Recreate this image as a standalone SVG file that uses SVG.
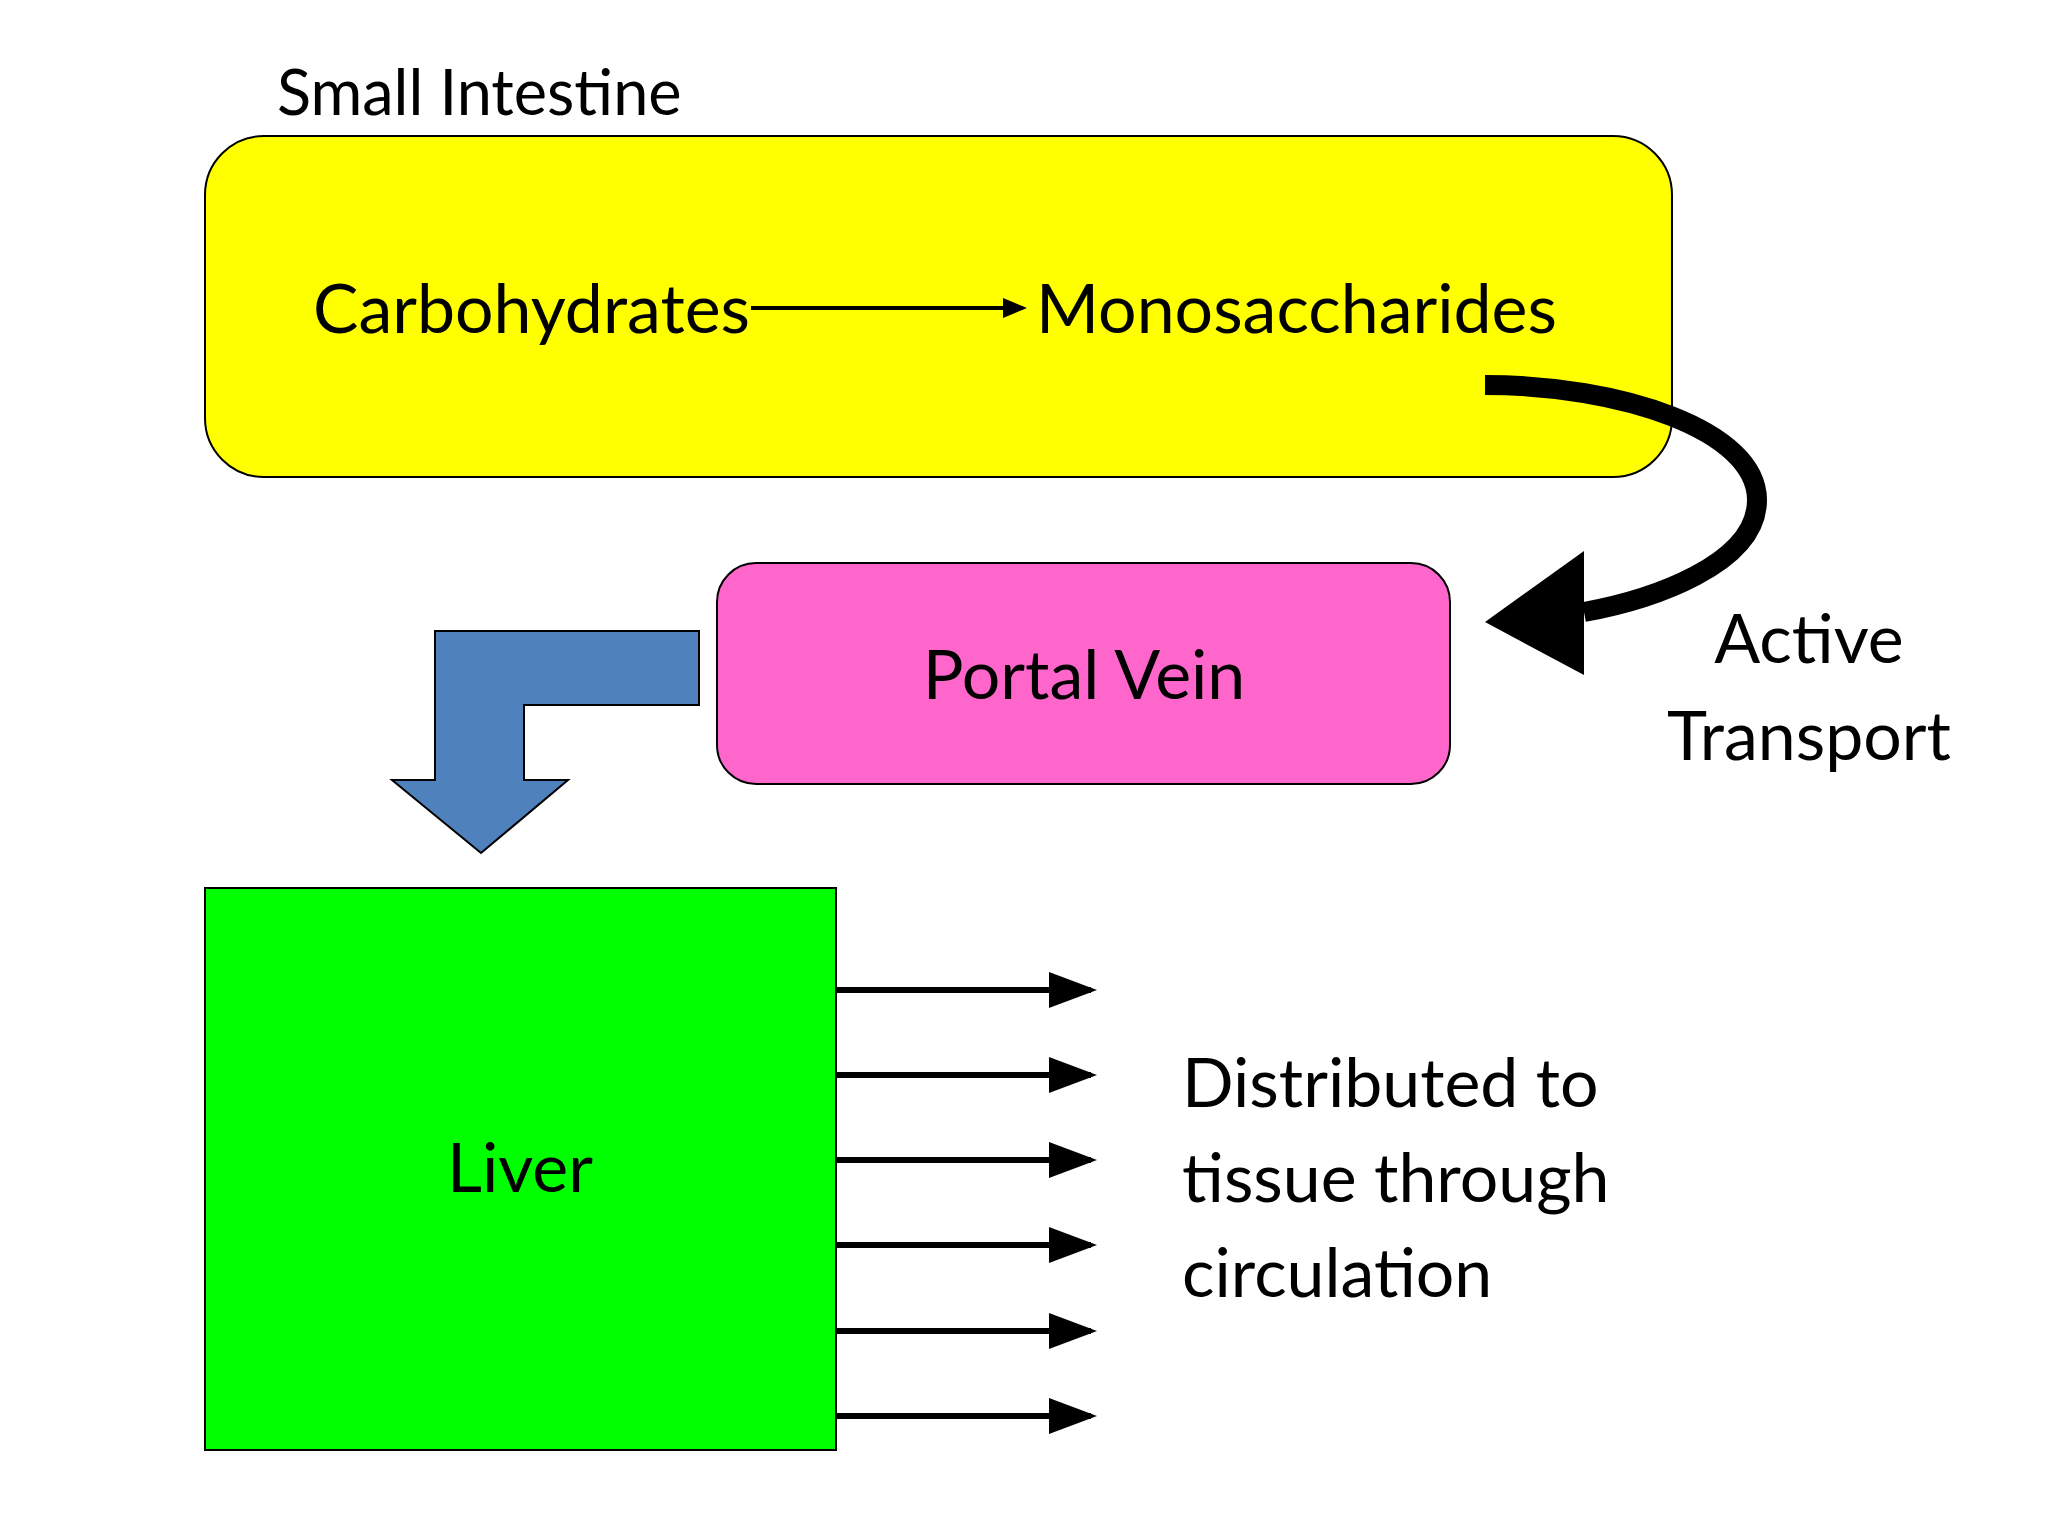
<svg xmlns="http://www.w3.org/2000/svg" width="2048" height="1536" viewBox="0 0 2048 1536">
<style>
text{font-family:Lato,"Open Sans","Liberation Sans",sans-serif;fill:#000}
.big{font-size:68px}
.ln{stroke:#000;stroke-width:6;fill:none}
</style>
<defs>
<marker id="ah" markerWidth="8" markerHeight="6" refX="7" refY="3" orient="auto" markerUnits="strokeWidth"><path d="M0,0 L8,3 L0,6 z" fill="#000"/></marker>
<marker id="ah2" markerWidth="6" markerHeight="5" refX="5" refY="2.5" orient="auto" markerUnits="strokeWidth"><path d="M0,0 L6,2.5 L0,5 z" fill="#000"/></marker>
</defs>
<rect width="2048" height="1536" fill="#fff"/>
<g id="small-intestine">
<text x="277" y="115" font-size="63">Small Intestine</text>
<rect x="205" y="136" width="1467" height="341" rx="59" fill="#ffff00" stroke="#000" stroke-width="2"/>
<text x="313" y="333" class="big">Carbohydrates</text>
<text x="1036" y="333" class="big">Monosaccharides</text>
</g>
<g id="portal-vein">
<rect x="717" y="563" width="733" height="221" rx="39" fill="#ff66cc" stroke="#000" stroke-width="2"/>
<text x="1084" y="699" class="big" text-anchor="middle">Portal Vein</text>
</g>
<g id="active-transport">
<text x="1809" y="663" class="big" text-anchor="middle">Active</text>
<text x="1809" y="760" class="big" text-anchor="middle">Transport</text>
</g>
<g id="liver">
<rect x="205" y="888" width="631" height="562" fill="#00ff00" stroke="#000" stroke-width="2"/>
<text x="520" y="1192" class="big" text-anchor="middle">Liver</text>
</g>
<g id="distributed">
<text x="1182" y="1107" class="big">Distributed to</text>
<text x="1182" y="1202" class="big">tissue through</text>
<text x="1182" y="1297" class="big">circulation</text>
</g>
<g id="connectors">
<line x1="751" y1="308" x2="1023" y2="308" stroke="#000" stroke-width="4" marker-end="url(#ah2)"/>
<path d="M1485,385 C1620,385 1757,430 1757,500 C1757,565 1650,600 1584,612" fill="none" stroke="#000" stroke-width="20"/>
<path d="M1485,622 L1584,551 L1584,675 z" fill="#000"/>
<path d="M699,631 L435,631 L435,780 L392,780 L481,853 L568,780 L524,780 L524,705 L699,705 z" fill="#4f81bd" stroke="#000" stroke-width="2"/>
<line x1="836" y1="990" x2="1091" y2="990" class="ln" marker-end="url(#ah)"/>
<line x1="836" y1="1075" x2="1091" y2="1075" class="ln" marker-end="url(#ah)"/>
<line x1="836" y1="1160" x2="1091" y2="1160" class="ln" marker-end="url(#ah)"/>
<line x1="836" y1="1245" x2="1091" y2="1245" class="ln" marker-end="url(#ah)"/>
<line x1="836" y1="1331" x2="1091" y2="1331" class="ln" marker-end="url(#ah)"/>
<line x1="836" y1="1416" x2="1091" y2="1416" class="ln" marker-end="url(#ah)"/>
</g>
</svg>
